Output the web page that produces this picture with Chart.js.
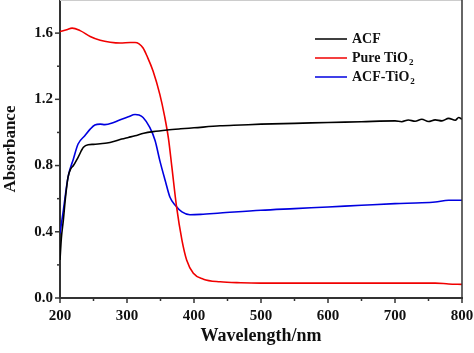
<!DOCTYPE html>
<html>
<head>
<meta charset="utf-8">
<script src="https://cdn.jsdelivr.net/npm/chart.js@4.4.1/dist/chart.umd.min.js"></script>
<style>
  html, body { margin: 0; padding: 0; background: #fff; }
  #wrap { width: 474px; height: 353px; position: relative; }
</style>
</head>
<body>
<div id="wrap"><canvas id="uvChart"></canvas></div>
<script>
// UV-vis absorbance spectra
const acfWl = [200, 202, 205, 208, 212, 216, 220, 227, 235, 242, 250, 260, 270, 280, 292, 302, 312, 325, 339, 360, 380, 400, 439, 470, 500, 550, 600, 650, 700, 710, 720, 730, 740, 750, 760, 770, 780, 790, 795, 800]
const acfAbs = [0.23, 0.36, 0.47, 0.6, 0.73, 0.78, 0.80, 0.85, 0.91, 0.926, 0.928, 0.932, 0.936, 0.945, 0.96, 0.97, 0.98, 0.995, 1.005, 1.015, 1.022, 1.028, 1.04, 1.045, 1.05, 1.055, 1.06, 1.065, 1.07, 1.065, 1.075, 1.068, 1.08, 1.066, 1.076, 1.07, 1.085, 1.074, 1.09, 1.08]

const pureWl = [200, 210, 218, 230, 245, 260, 275, 290, 305, 312, 318, 324, 330, 339, 349, 356, 362, 367, 374, 382, 389, 399, 414, 439, 470, 500, 600, 700, 760, 780, 800]
const pureAbs = [1.61, 1.62, 1.63, 1.615, 1.58, 1.557, 1.545, 1.54, 1.543, 1.543, 1.535, 1.51, 1.46, 1.37, 1.23, 1.10, 0.96, 0.79, 0.55, 0.35, 0.23, 0.15, 0.114, 0.098, 0.092, 0.09, 0.09, 0.09, 0.09, 0.085, 0.082]

const compWl = [200, 205, 212, 220, 227, 237, 245, 252, 260, 267, 280, 292, 302, 312, 318, 324, 334, 342, 349, 357, 364, 372, 382, 394, 410, 439, 500, 550, 600, 650, 700, 740, 760, 780, 800]
const compAbs = [0.39, 0.53, 0.73, 0.84, 0.93, 0.98, 1.02, 1.045, 1.05, 1.047, 1.06, 1.08, 1.095, 1.108, 1.105, 1.09, 1.03, 0.95, 0.83, 0.71, 0.61, 0.56, 0.52, 0.503, 0.505, 0.513, 0.53, 0.54, 0.55, 0.56, 0.57, 0.575, 0.58, 0.59, 0.59]

const seriesNames = ["ACF", "Pure TiO", "ACF-TiO"]
const seriesSubs = ["", "2", "2"]
const seriesColors = ["#000000", "#f00000", "#0000e0"]

const xTicks = [200, 300, 400, 500, 600, 700, 800]
const yTicks = [0.0, 0.4, 0.8, 1.2, 1.6]

const FONT = "'Liberation Serif', 'Times New Roman', serif"

function toPoints(xs, ys) {
  return xs.map((x, i) => ({ x: x, y: ys[i] }))
}

// axis frame + outward tick marks (major and minor)
const framePlugin = {
  id: "frame",
  afterDraw(chart) {
    const ctx = chart.ctx
    const a = chart.chartArea
    const xs = chart.scales.x
    const ys = chart.scales.y
    ctx.save()
    ctx.strokeStyle = "#cccccc"
    ctx.lineWidth = 1
    ctx.beginPath()
    ctx.moveTo(a.left, a.top + 0.5)
    ctx.lineTo(a.right, a.top + 0.5)
    ctx.stroke()

    ctx.strokeStyle = "#333333"
    ctx.lineWidth = 1.5
    ctx.beginPath()
    ctx.moveTo(a.right, a.top)
    ctx.lineTo(a.right, a.bottom)
    ctx.stroke()

    for (let v = 200; v <= 800; v += 50) {
      const px = xs.getPixelForValue(v)
      const len = v % 100 === 0 ? 5 : 3
      ctx.beginPath()
      ctx.moveTo(px, a.bottom)
      ctx.lineTo(px, a.bottom + len)
      ctx.stroke()
    }
    for (let i = 0; i <= 8; i++) {
      const py = ys.getPixelForValue(i * 0.2)
      const len = i % 2 === 0 ? 5 : 3
      ctx.beginPath()
      ctx.moveTo(a.left, py)
      ctx.lineTo(a.left - len, py)
      ctx.stroke()
    }
    ctx.restore()
  },
}

// legend with subscripts
const legendPlugin = {
  id: "subLegend",
  afterDraw(chart) {
    const ctx = chart.ctx
    ctx.save()
    const x0 = 315
    const x1 = 347
    const rowY = [39, 58, 77]
    seriesNames.forEach((name, i) => {
      ctx.strokeStyle = seriesColors[i]
      ctx.lineWidth = 1.5
      ctx.beginPath()
      ctx.moveTo(x0, rowY[i])
      ctx.lineTo(x1, rowY[i])
      ctx.stroke()
      ctx.fillStyle = "#111"
      ctx.font = "bold 14px " + FONT
      ctx.textBaseline = "middle"
      ctx.fillText(name, x1 + 5, rowY[i])
      if (seriesSubs[i]) {
        const w = ctx.measureText(name).width
        ctx.font = "bold 9px " + FONT
        ctx.fillText(seriesSubs[i], x1 + 5 + w + 1, rowY[i] + 5)
      }
    })
    ctx.restore()
  },
}

const ctx = document.getElementById("uvChart").getContext("2d")

new Chart(ctx, {
  type: "line",
  data: {
    datasets: [
      { label: "ACF", data: toPoints(acfWl, acfAbs), borderColor: seriesColors[0] },
      { label: "Pure TiO2", data: toPoints(pureWl, pureAbs), borderColor: seriesColors[1] },
      { label: "ACF-TiO2", data: toPoints(compWl, compAbs), borderColor: seriesColors[2] },
    ],
  },
  options: {
    responsive: true,
    maintainAspectRatio: false,
    animation: false,
    layout: { padding: { top: 0, right: 12, bottom: 0, left: 0 } },
    elements: {
      point: { radius: 0 },
      line: { borderWidth: 1.6, cubicInterpolationMode: "monotone", fill: false },
    },
    plugins: {
      legend: { display: false },
      tooltip: { enabled: false },
    },
    scales: {
      x: {
        type: "linear",
        min: 200,
        max: 800,
        grid: { display: false, drawTicks: false },
        border: { display: true, color: "#333333", width: 2 },
        afterFit(scale) {
          scale.height = 55
          scale.paddingLeft = 0
          scale.paddingRight = 0
        },
        ticks: {
          stepSize: 50,
          padding: 9,
          color: "#111",
          font: { family: FONT, size: 15, weight: "bold" },
          callback: (v) => (xTicks.includes(v) ? String(v) : ""),
          maxRotation: 0,
          autoSkip: false,
        },
        title: {
          display: true,
          text: "Wavelength/nm",
          color: "#111",
          font: { family: FONT, size: 18, weight: "bold" },
          padding: { top: 0, bottom: 6 },
        },
      },
      y: {
        min: 0,
        max: 1.8,
        grid: { display: false, drawTicks: false },
        border: { display: true, color: "#333333", width: 2 },
        afterFit(scale) {
          scale.width = 60
          scale.paddingTop = 0
          scale.paddingBottom = 0
        },
        ticks: {
          stepSize: 0.2,
          padding: 7,
          color: "#111",
          font: { family: FONT, size: 15, weight: "bold" },
          callback: (v) => {
            const hit = yTicks.find((t) => Math.abs(t - v) < 1e-6)
            return hit === undefined ? "" : hit.toFixed(1)
          },
          autoSkip: false,
        },
        title: {
          display: true,
          text: "Absorbance",
          color: "#111",
          font: { family: FONT, size: 17, weight: "bold" },
          padding: { top: 0, bottom: 0 },
        },
      },
    },
  },
  plugins: [framePlugin, legendPlugin],
})
</script>
</body>
</html>
